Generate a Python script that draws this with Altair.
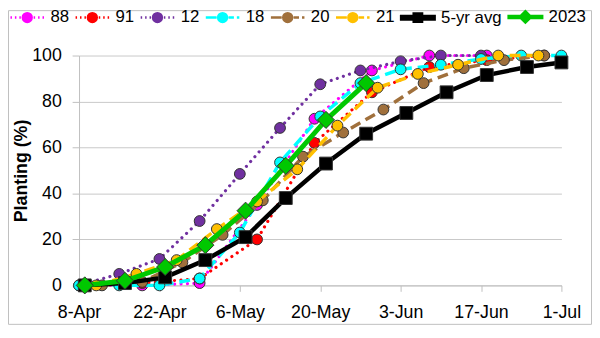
import altair as alt
import pandas as pd

YEAR = 2023

series_names = ["88", "91", "12", "18", "20", "21", "5-yr avg", "2023"]
colors = ["#FF00FF", "#FF0000", "#7030A0", "#00FFFF", "#A0703C", "#FFC000", "#000000", "#00C800"]

d88 = ["04-09", "04-19", "04-29", "05-09", "05-19", "05-29", "06-08", "06-18"]
v88 = [0, 0, 1, 35, 72.5, 93.5, 100, 100]
d91 = ["04-09", "04-19", "04-29", "05-09", "05-19", "05-29", "06-08", "06-18", "06-28"]
v91 = [0, 1, 3, 20, 62, 84, 95, 98, 100]
d12 = ["04-08", "04-15", "04-22", "04-29", "05-06", "05-13", "05-20", "05-27", "06-03", "06-10", "06-17"]
v12 = [0, 5, 11.5, 28, 48.5, 68.5, 87.5, 93.5, 97.5, 100, 100]
d18 = ["04-08", "04-15", "04-22", "04-29", "05-06", "05-13", "05-20", "05-27", "06-03", "06-10", "06-17", "06-24", "07-01"]
v18 = [0, 0, 0, 3, 23, 53.5, 73.5, 88, 94, 96, 98.5, 100, 100]
d20 = ["04-12", "04-19", "04-26", "05-03", "05-10", "05-17", "05-24", "05-31", "06-07", "06-14", "06-21", "06-28"]
v20 = [0, 1.5, 10, 22, 37, 56, 66.5, 76.5, 88, 94.5, 98, 100]
d21 = ["04-11", "04-18", "04-25", "05-02", "05-09", "05-16", "05-23", "05-30", "06-06", "06-13", "06-20", "06-27"]
v21 = [0, 5, 11, 24.5, 36.5, 50.5, 69.5, 86, 92, 96, 100, 100]
davg = ["04-09", "04-16", "04-23", "04-30", "05-07", "05-14", "05-21", "05-28", "06-04", "06-11", "06-18", "06-25", "07-01"]
vavg = [0, 1, 3.5, 11, 21, 38, 53, 66, 75, 84, 91.5, 95, 97]
d23 = ["04-09", "04-16", "04-23", "04-30", "05-07", "05-14", "05-21", "05-28"]
v23 = [0, 2, 8, 17.5, 32.5, 52, 72, 88]

tick_dates = ["04-08", "04-22", "05-06", "05-20", "06-03", "06-17", "07-01"]
y_ticks = [0, 20, 40, 60, 80, 100]

all_dates = [d88, d91, d12, d18, d20, d21, davg, d23]
all_vals = [v88, v91, v12, v18, v20, v21, vavg, v23]

# styles: (dash, line width, cap, shape, marker size)
DOT = [0.01, 6.5]
DASH = [11, 6]
styles = [
    (DOT, 3.2, "round", "circle", 120),
    (DOT, 3.2, "round", "circle", 120),
    (DOT, 3.2, "round", "circle", 120),
    (DASH, 3.5, "butt", "circle", 120),
    (DASH, 3.5, "butt", "circle", 120),
    (DASH, 3.5, "butt", "circle", 120),
    (None, 4.5, "butt", "square", 170),
    (None, 5, "butt", "diamond", 300),
]

circ = "M0.9,0A0.9,0.9 0 1,1 -0.9,0A0.9,0.9 0 1,1 0.9,0Z"
dots = "M-3.4,0L-3.1,0M-2.5,0L-2.2,0M-1.6,0L-1.3,0M1.3,0L1.6,0M2.2,0L2.5,0M3.1,0L3.4,0"
dashes = "M-3.4,0L-1.2,0M1.2,0L2.3,0M2.9,0L3.4,0"
legend_paths = [
    dots + circ, dots + circ, dots + circ,
    dashes + circ, dashes + circ, dashes + circ,
    "M-3.4,-0.35L3.4,-0.35L3.4,0.35L-3.4,0.35Z" + "M-0.85,-0.85L0.85,-0.85L0.85,0.85L-0.85,0.85Z",
    "M-3.4,-0.2L3.4,-0.2L3.4,0.2L-3.4,0.2Z" + "M-1.15,0L0,-1.15L1.15,0L0,1.15Z",
]


def iso(d):
    return f"{YEAR}-{d}"


def dt(d):
    m, day = d.split("-")
    return alt.DateTime(year=YEAR, month=int(m), date=int(day), utc=True)


x_enc = alt.X(
    "date:T",
    title=None,
    scale=alt.Scale(type="utc", domain=[dt(tick_dates[0]), dt(tick_dates[-1])]),
    axis=alt.Axis(
        values=[dt(t) for t in tick_dates],
        format="%-d-%b",
        grid=False,
        tickSize=6,
        labelPadding=13,
        domainColor="#BFBFBF",
        tickColor="#BFBFBF",
        labelFlush=False,
    ),
)
y_enc = alt.Y(
    "value:Q",
    title="Planting (%)",
    scale=alt.Scale(domain=[0, 100], nice=False),
    axis=alt.Axis(
        values=y_ticks,
        grid=True,
        gridColor="#C8C8C8",
        tickSize=7,
        labelPadding=11,
        titlePadding=1,
        domainColor="#BFBFBF",
        tickColor="#BFBFBF",
        titleFontWeight="bold",
    ),
)

layers = []
for name, ds, vs, col, st in zip(series_names, all_dates, all_vals, colors, styles):
    df = pd.DataFrame({"date": [iso(d) for d in ds], "value": vs, "series": name})
    dash, lw, cap, shape, msize = st
    line_kw = dict(color=col, strokeWidth=lw, strokeCap=cap, opacity=1)
    if dash is not None:
        line_kw["strokeDash"] = dash
    base = alt.Chart(df)
    layers.append(base.mark_line(**line_kw).encode(x=x_enc, y=y_enc))
    layers.append(
        base.mark_point(
            filled=True, shape=shape, size=msize, fill=col, stroke="#333333",
            strokeWidth=1, opacity=1,
        ).encode(x=x_enc, y=y_enc)
    )

legend_obj = alt.Legend(
    title=None,
    orient="none",
    direction="horizontal",
    legendX=-71,
    legendY=-48,
    labelFont="Liberation Sans",
    labelFontSize=17,
    labelColor="black",
    symbolSize=100,
    symbolStrokeWidth=2.5,
    symbolOffset=10,
    labelOffset=15,
    columnPadding=1,
)
legend_df = pd.DataFrame({"date": [iso("04-08")] * len(series_names), "value": 0, "series": series_names})
legend_layer = (
    alt.Chart(legend_df)
    .transform_filter("false")
    .mark_point(filled=True, opacity=1)
    .encode(
        x=x_enc,
        y=y_enc,
        fill=alt.Fill("series:N", scale=alt.Scale(domain=series_names, range=colors), legend=legend_obj),
        stroke=alt.Stroke("series:N", scale=alt.Scale(domain=series_names, range=colors), legend=legend_obj),
        shape=alt.Shape("series:N", scale=alt.Scale(domain=series_names, range=legend_paths), legend=legend_obj),
    )
)

frame = (
    alt.Chart(pd.DataFrame({"k": [0]}))
    .mark_rect(fill="white", fillOpacity=0, stroke="#BFBFBF", strokeWidth=1)
    .encode(
        x=alt.value(-71.5), x2=alt.value(519.5),
        y=alt.value(-45.5), y2=alt.value(272.5),
    )
)

chart = (
    alt.layer(frame, *layers, legend_layer)
    .properties(
        width=489,
        height=233,
        autosize=alt.AutoSizeParams(type="none"),
        padding={"left": 72, "top": 46, "right": 31, "bottom": 40},
    )
    .configure_view(stroke=None)
    .configure_axis(
        labelFont="Liberation Sans",
        labelFontSize=18,
        labelColor="black",
        titleFont="Liberation Sans",
        titleFontSize=18,
        titleColor="black",
    )
)

chart.save("out.html", embed_options={"renderer": "svg", "actions": False})
